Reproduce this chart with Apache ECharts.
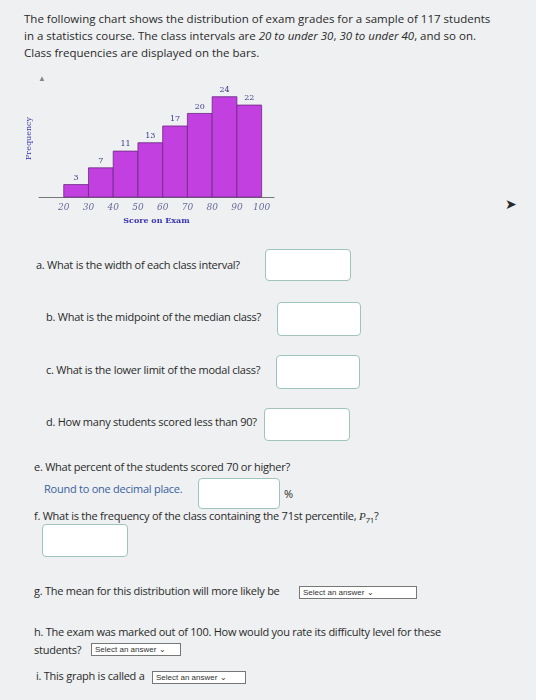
<!DOCTYPE html>
<html><head><meta charset="utf-8">
<script src="https://cdn.jsdelivr.net/npm/echarts@6/dist/echarts.min.js"></script>
<style>
body{margin:0;width:536px;height:700px;background:#eef0f1;font-family:"Open Sans",sans-serif;color:#2a2a2a;position:relative;overflow:hidden}
.t{position:absolute;font-size:11px;letter-spacing:-0.25px;white-space:nowrap}
.box{position:absolute;border:1px solid #9fc4bd;border-radius:4px;background:#fff}
.sel{position:absolute;border:1px solid #777;background:#fff;font-size:8px;font-family:Arial,sans-serif;padding:0 3px;height:11px;line-height:11px;color:#333}
</style></head><body>
<div class="t" style="left:24px;top:10px;line-height:17px;font-size:11.5px;letter-spacing:0">The following chart shows the distribution of exam grades for a sample of 117 students<br>in a statistics course. The class intervals are <i>20 to under 30</i>, <i>30 to under 40</i>, and so on.<br>Class frequencies are displayed on the bars.</div>
<div id="c" style="position:absolute;left:0;top:70px;width:300px;height:160px"></div>
<div class="t" style="left:36px;top:257px">a. What is the width of each class interval?</div>
<div class="box" style="left:265px;top:249px;width:84px;height:30px"></div>
<div class="t" style="left:46px;top:309px">b. What is the midpoint of the median class?</div>
<div class="box" style="left:277px;top:302px;width:82px;height:32px"></div>
<div class="t" style="left:46px;top:362px">c. What is the lower limit of the modal class?</div>
<div class="box" style="left:276px;top:355px;width:82px;height:32px"></div>
<div class="t" style="left:46px;top:414px">d. How many students scored less than 90?</div>
<div class="box" style="left:264px;top:408px;width:84px;height:31px"></div>
<div class="t" style="left:34px;top:459px">e. What percent of the students scored 70 or higher?</div>
<div class="t" style="left:44px;top:481px;color:#3a5fa0">Round to one decimal place.</div>
<div class="box" style="left:198px;top:478px;width:80px;height:29px"></div>
<div class="t" style="left:284px;top:486px">%</div>
<div class="t" style="left:34px;top:508px">f. What is the frequency of the class containing the 71st percentile, <i style="font-family:serif">P</i><sub style="font-size:8px">71</sub>?</div>
<div class="box" style="left:42px;top:524px;width:84px;height:31px"></div>
<div class="t" style="left:34px;top:583px">g. The mean for this distribution will more likely be</div>
<div class="sel" style="left:299px;top:586px;width:110px">Select an answer ⌄</div>
<div class="t" style="left:34px;top:623px;line-height:18px">h. The exam was marked out of 100. How would you rate its difficulty level for these<br>students?</div>
<div class="sel" style="left:91px;top:643px;width:82px">Select an answer ⌄</div>
<div class="t" style="left:36px;top:668px">i. This graph is called a</div>
<div class="sel" style="left:152px;top:671px;width:86px">Select an answer ⌄</div>
<div class="t" style="left:505px;top:194px;font-size:14px">➤</div>
<script>
const lowerBounds=[20,30,40,50,60,70,80,90];
const classWidth=10;
const frequencies=[3,7,11,13,17,20,24,22];
const xTicks=[20,30,40,50,60,70,80,90,100];
const data=lowerBounds.map((l,i)=>[l,l+classWidth,frequencies[i]]);
const ch=echarts.init(document.getElementById('c'));
ch.setOption({
 animation:false,
 grid:{left:39,top:10,width:235,height:118},
 xAxis:{type:'value',min:10,max:105,interval:10,
  axisLine:{show:true,lineStyle:{color:'#777'}},axisTick:{show:false},splitLine:{show:false},
  axisLabel:{formatter:v=>xTicks.includes(v)?String(v):'',color:'#6a6a9a',fontStyle:'italic',fontFamily:'DejaVu Serif',fontSize:9,margin:6},
  name:'Score on Exam',nameLocation:'middle',nameGap:17,nameTextStyle:{color:'#3a34b0',fontFamily:'DejaVu Serif',fontWeight:'bold',fontSize:8}},
 yAxis:{type:'value',min:0,max:28,show:true,axisLine:{show:false},axisTick:{show:false},axisLabel:{show:false},splitLine:{show:false},
  name:'Frequency',nameLocation:'middle',nameGap:6,nameTextStyle:{color:'#3a34b0',fontFamily:'DejaVu Serif',fontSize:8}},
 graphic:[{type:'text',left:38,top:5,style:{text:'▲',fill:'#888',fontSize:8}}],
 series:[{type:'custom',data:data,encode:{x:[0,1],y:2},
  renderItem:(p,api)=>{const a=api.coord([api.value(0),api.value(2)]),b=api.coord([api.value(1),0]);
   return {type:'group',children:[
    {type:'rect',shape:{x:a[0],y:a[1],width:b[0]-a[0],height:b[1]-a[1]},style:{fill:'#c23fe0',stroke:'#6a2a80',lineWidth:0.8}},
    {type:'text',style:{text:String(api.value(2)),x:(a[0]+b[0])/2,y:a[1]-3,textAlign:'center',textVerticalAlign:'bottom',fill:'#3a3a8a',fontFamily:'DejaVu Serif',fontSize:8}}]};}}]
});
</script>
</body></html>
